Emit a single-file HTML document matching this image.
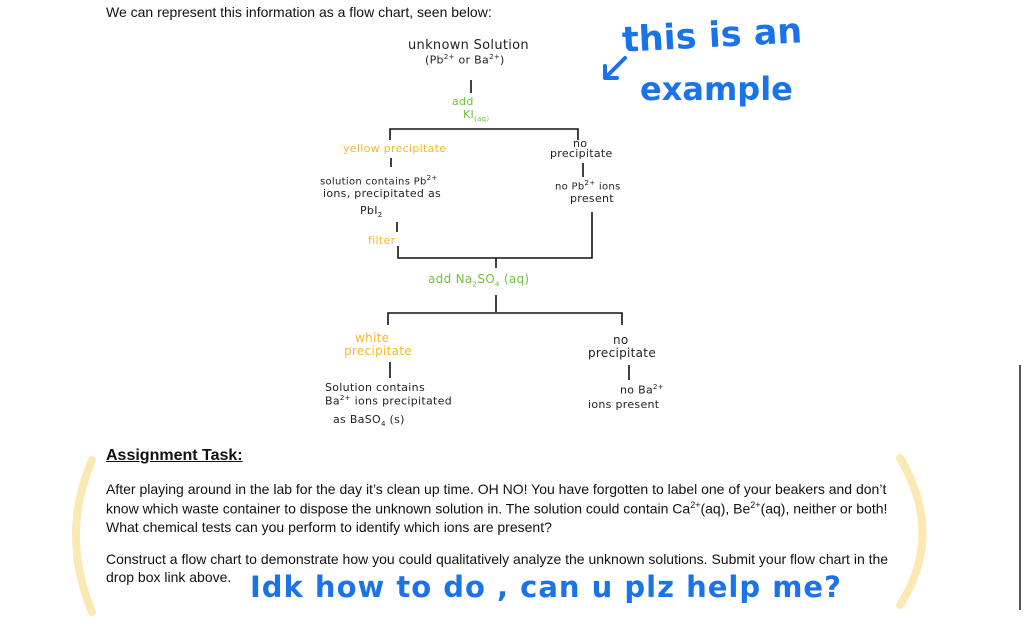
<!DOCTYPE html>
<html><head><meta charset="utf-8"><style>
body{margin:0;width:1024px;height:637px;background:#fff;position:relative;overflow:hidden;font-family:"Liberation Sans",sans-serif;}
.a{position:absolute;white-space:nowrap;}
.h{font-family:"DejaVu Sans","Liberation Sans",sans-serif;font-size:11px;color:#222;letter-spacing:0.3px}
.g{color:#6cc43a}.o{color:#f5b82a}
.p{font-size:14px;color:#111;left:106px;transform-origin:left top}
.b{color:#1a73e8;font-weight:bold;font-family:"DejaVu Sans",sans-serif}
sup{font-size:7px}
.p sup{font-size:9px}
</style></head><body>
<div class="a" style="left:106px;top:4px;font-size:14px;color:#111">We can represent this information as a flow chart, seen below:</div>

<svg class="a" style="left:0;top:0" width="1024" height="637">
<g stroke="#111" stroke-width="1.6" fill="none">
<path d="M471 80V93"/>
<path d="M390 140V129H578V140"/>
<path d="M391 158V167"/><path d="M583 163V177"/>
<path d="M397 222V232"/>
<path d="M398 246V258H592V212"/>
<path d="M496 258V268"/>
<path d="M496 295V312"/>
<path d="M388 325V313H622V325"/>
<path d="M390 362V378"/><path d="M629 365V380"/>
</g>
<path d="M92 460 Q60 535 92 612" stroke="#fbe9b4" stroke-width="8" fill="none" stroke-linecap="round"/>
<path d="M900 458 Q945 535 900 605" stroke="#fbe9b4" stroke-width="8" fill="none" stroke-linecap="round"/>
<path d="M605 78 L625 58 M605 78 L605 66 M605 78 L617 78" stroke="#1a73e8" stroke-width="4" fill="none" stroke-linecap="round"/>
<path d="M1020 365V610" stroke="#555" stroke-width="2"/>
</svg>

<div class="a h" style="left:408px;top:38px;font-size:13px">unknown Solution</div>
<div class="a h" style="left:425px;top:53px">(Pb<sup>2+</sup> or Ba<sup>2+</sup>)</div>
<div class="a h g" style="left:452px;top:95px">add</div>
<div class="a h g" style="left:463px;top:108px">KI<sub style="font-size:7px">(aq)</sub></div>
<div class="a h o" style="left:343px;top:142px">yellow precipitate</div>
<div class="a h" style="left:573px;top:137px">no</div>
<div class="a h" style="left:550px;top:147px">precipitate</div>
<div class="a h" style="left:320px;top:174px;font-size:10px">solution contains Pb<sup>2+</sup></div>
<div class="a h" style="left:323px;top:187px">ions, precipitated as</div>
<div class="a h" style="left:360px;top:204px">PbI<sub style="font-size:7px">2</sub></div>
<div class="a h" style="left:555px;top:179px;font-size:10px">no Pb<sup>2+</sup> ions</div>
<div class="a h" style="left:570px;top:192px">present</div>
<div class="a h o" style="left:368px;top:234px">filter</div>
<div class="a h g" style="left:428px;top:272px;font-size:12px">add Na<sub style="font-size:7px">2</sub>SO<sub style="font-size:7px">4</sub> (aq)</div>
<div class="a h o" style="left:355px;top:331px;font-size:12px">white</div>
<div class="a h o" style="left:344px;top:344px;font-size:12px">precipitate</div>
<div class="a h" style="left:613px;top:333px;font-size:12px">no</div>
<div class="a h" style="left:588px;top:346px;font-size:12px">precipitate</div>
<div class="a h" style="left:325px;top:381px">Solution contains</div>
<div class="a h" style="left:325px;top:394px">Ba<sup>2+</sup> ions precipitated</div>
<div class="a h" style="left:333px;top:413px">as BaSO<sub style="font-size:7px">4</sub> (s)</div>
<div class="a h" style="left:620px;top:383px">no Ba<sup>2+</sup></div>
<div class="a h" style="left:588px;top:398px">ions present</div>

<div class="a b" style="left:622px;top:16px;font-size:35px;transform:rotate(-3deg)">this is an</div>
<div class="a b" style="left:640px;top:70px;font-size:32px">example</div>

<div class="a" style="left:106px;top:447px;font-size:16px;font-weight:bold;text-decoration:underline;color:#111">Assignment Task:</div>
<div class="a p" style="top:481px">After playing around in the lab for the day it’s clean up time. OH NO! You have forgotten to label one of your beakers and don’t</div>
<div class="a p" style="top:500px">know which waste container to dispose the unknown solution in. The solution could contain Ca<sup>2+</sup>(aq), Be<sup>2+</sup>(aq), neither or both!</div>
<div class="a p" style="top:519px">What chemical tests can you perform to identify which ions are present?</div>
<div class="a p" style="top:551px">Construct a flow chart to demonstrate how you could qualitatively analyze the unknown solutions. Submit your flow chart in the</div>
<div class="a p" style="top:569px">drop box link above.</div>
<div class="a b" style="left:250px;top:570px;font-size:29px;letter-spacing:1px">Idk how to do , can u plz help me?</div>
</body></html>
